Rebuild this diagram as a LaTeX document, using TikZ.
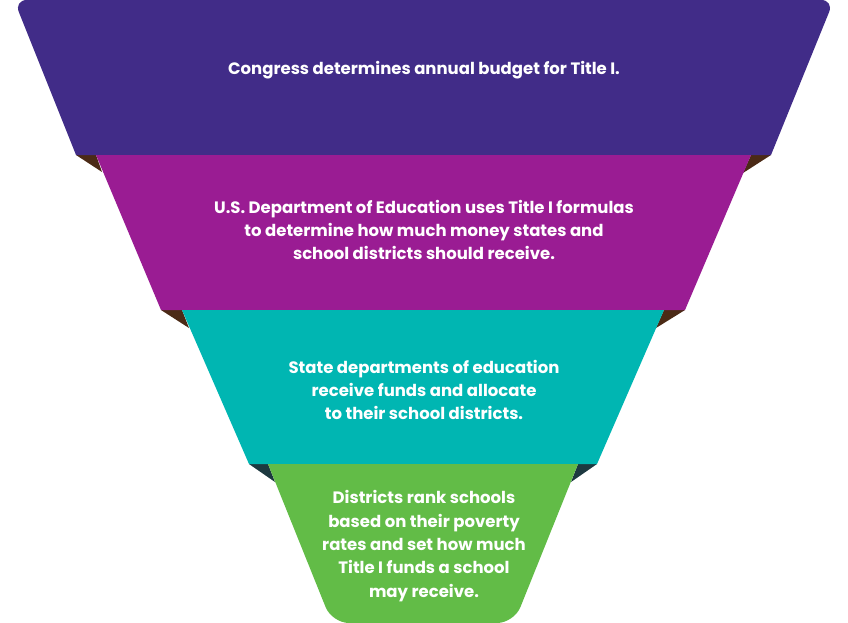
\documentclass[tikz,border=0pt]{standalone}
\usepackage{fontspec}
\setmainfont{Poppins}

\definecolor{funnelpurple}{HTML}{412C88}
\definecolor{funnelmagenta}{HTML}{9A1C93}
\definecolor{funnelteal}{HTML}{00B6B2}
\definecolor{funnelgreen}{HTML}{62BC47}
\definecolor{shadebrown}{HTML}{4B2A16}
\definecolor{shadeteal}{HTML}{1D3940}

\begin{document}
\begin{tikzpicture}[x=1pt,y=-1pt]

      \useasboundingbox (0,0) rectangle (848,623);

      \begin{scope}[every path/.style={fill=shadebrown}]
        \path (76,155) -- (96,155) -- (102,172) -- cycle;
        \path (771,155) -- (751,155) -- (743,173) -- cycle;
        \path (161,310) -- (182,310) -- (189,328) -- cycle;
        \path (685,310) -- (664,310) -- (656,328) -- cycle;
      \end{scope}

      \begin{scope}[every path/.style={fill=shadeteal}]
        \path (249,464) -- (268,464) -- (275,482) -- cycle;
        \path (597,464) -- (578,464) -- (571,482) -- cycle;
      \end{scope}

      \fill[funnelpurple] (45,77.5) [rounded corners=13] -- (14,0) -- (834,0)
        -- (802.5,77.5) [sharp corners] -- (771,155) -- (76,155) -- cycle;
      \fill[funnelmagenta] (96,155) -- (751,155) -- (685,310) -- (161,310) -- cycle;
      \fill[funnelteal] (182,310) -- (664,310) -- (597,464) -- (249,464) -- cycle;
      \fill[funnelgreen] (300,543.5) -- (268,464) -- (578,464) -- (546,543.5)
        [rounded corners=17] -- (514,623) -- (332,623) -- cycle;

      \begin{scope}[every node/.style={text=white,align=center,
          font=\fontsize{16.5}{23.3}\selectfont\bfseries}]
        \node (budget) at (424,70) {Congress determines annual budget for Title I.};
        \node (formula) at (424,230) {U.S. Department of Education uses Title I formulas\\
          to determine how much money states and\\
          school districts should receive.};
        \node (state) at (424,390) {State departments of education\\
          receive funds and allocate\\
          to their school districts.};
        \node (district) at (424,546) {Districts rank schools\\
          based on their poverty\\
          rates and set how much\\
          Title I funds a school\\
          may receive.};
      \end{scope}

    \end{tikzpicture}
\end{document}
